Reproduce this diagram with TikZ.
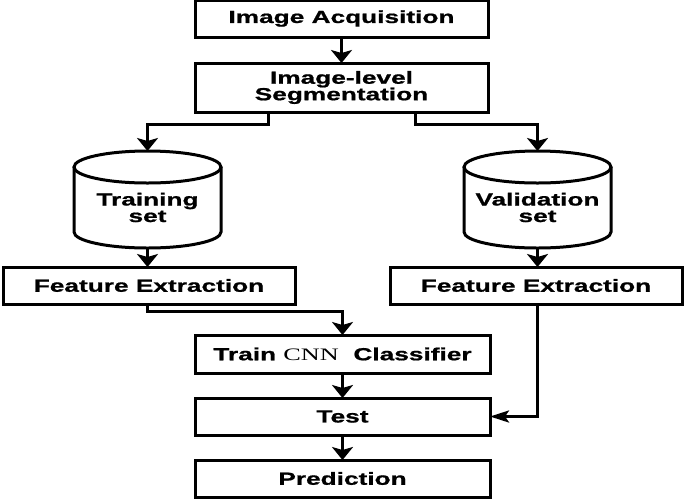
\documentclass[tikz,border=0pt]{standalone}
\usepackage{fontspec}
\setmainfont[FakeStretch=1.5, BoldFeatures={FakeBold=1}]{Liberation Sans}
\newfontfamily\cnnfont[FakeStretch=1.5]{Liberation Serif}
\usetikzlibrary{arrows.meta, positioning}
\tikzset{
box/.style={draw, rectangle, inner sep=0pt, outer sep=0pt, align=center,
  minimum width=293pt, minimum height=37pt,
  font=\bfseries\fontsize{17.5}{16.5}\selectfont},
dbset/.style={rectangle, inner sep=0pt, outer sep=0pt, align=center,
  minimum width=147pt, minimum height=81pt,
  font=\bfseries\fontsize{17.5}{16.5}\selectfont},
}
% draws the cylinder round a dbset node
\newcommand\dbcyl[1]{%
  \draw (#1.north) ellipse [x radius=73.5pt, y radius=16pt];
  \draw (#1.north west) -- ([yshift=16pt]#1.south west)
        arc [start angle=180, end angle=360, x radius=73.5pt, y radius=16pt]
        -- (#1.north east);}

\begin{document}
\begin{tikzpicture}[x=1pt, y=-1pt, % pixel-like units, y grows downwards
    line width=3pt,
    >={Stealth[length=13pt,width=21pt,inset=3pt]}] % heads of the vertical arrows
    \useasboundingbox (0,0) rectangle (685,499);

    \node[box] (acq) at (341.5,18.5) {Image Acquisition};
    \node[box, below=26pt of acq, minimum height=49pt] (seg) {Image-level\\Segmentation};
    \node[dbset] (tset) at (147.5,207.5) {Training\\set};
    \node[dbset] (vset) at (537.5,207.5) {Validation\\set};
    \node[box, minimum width=292pt] (fe1) at (149,285.5) {Feature Extraction};
    \node[box, minimum width=292pt] (fe2) at (536,285.5) {Feature Extraction};
    \node[box, minimum width=295pt, minimum height=38pt] (train) at (342.5,354) {Train {\cnnfont\mdseries CNN}\ \ Classifier};
    \node[box, minimum width=295pt, below=25pt of train] (test) {Test};
    \node[box, minimum width=295pt, below=25pt of test] (pred) {Prediction};

    \dbcyl{tset}
    \dbcyl{vset}

    \draw[->] (acq) -- (seg);
    \draw[->] ([xshift=-73pt]seg.south) -- ++(0,12) -| ([yshift=16pt]tset.north);
    \draw[->] ([xshift=74pt]seg.south) -- ++(0,12) -| ([yshift=16pt]vset.north);
    \draw[->] (tset.south) -- (tset.south |- fe1.north);
    \draw[->] (vset.south) -- (vset.south |- fe2.north);
    \draw[->] (tset.south |- fe1.south) -- ++(0,7) -| (train.north);
    \draw[-{Stealth[length=19pt,width=12pt,inset=4pt]}] (vset.south |- fe2.south) |- (test.east);
    \draw[->] (train) -- (test);
    \draw[->] (test) -- (pred);
\end{tikzpicture}
\end{document}
